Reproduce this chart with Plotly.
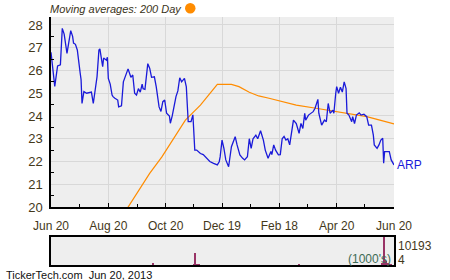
import pandas as pd
import plotly.graph_objects as go

# ---------------- data ----------------
start_date = "2012-06-20"

# price: days since Jun 20, 2012 and closing values
price_days = [0, 2, 4, 7, 10, 12, 14, 17, 18, 21, 23, 24, 26, 28, 31, 32, 33, 35, 38, 42,
              43, 45, 49, 51, 52, 55, 56, 59, 60, 61, 63, 65, 66, 68, 71, 72, 75, 77, 81, 82,
              85, 87, 89, 91, 93, 95, 97, 98, 100, 103, 105, 107, 110, 112, 115, 117, 119, 121, 123, 126,
              127, 129, 133, 135, 137, 139, 142, 144, 146, 149, 151, 152, 153, 155, 159, 162, 166, 169, 173, 177,
              179, 180, 182, 184, 186, 189, 192, 196, 198, 201, 204, 206, 209, 211, 213, 215, 218, 220, 223, 226,
              228, 231, 234, 235, 237, 239, 242, 244, 246, 248, 250, 252, 254, 258, 261, 264, 266, 268, 270, 271,
              274, 277, 279, 281, 284, 285, 288, 291, 293, 295, 297, 300, 301, 303, 304, 306, 308, 310, 312, 314,
              315, 317, 320, 321, 323, 325, 328, 330, 333, 336, 338, 341, 343, 344, 347, 349, 351, 353, 354, 355,
              360, 362, 365]
price_vals = [26.8, 26.0, 25.3, 26.2, 26.25, 27.85, 27.6, 26.75, 27.0, 27.75, 27.5, 27.2, 27.15, 26.9, 25.9, 25.6, 24.55, 25.07, 25.0, 25.02,
              25.05, 24.55, 25.73, 26.9, 26.95, 26.17, 26.55, 26.45, 26.58, 25.65, 25.4, 24.92, 24.85, 24.78, 24.7, 24.4, 24.45, 25.5, 26.0, 26.07,
              25.7, 25.8, 25.0, 24.92, 25.2, 25.05, 25.4, 25.2, 25.17, 26.3, 26.1, 25.7, 25.72, 25.28, 24.4, 24.2, 24.63, 24.7, 24.12, 24.0,
              23.68, 24.0, 24.85, 25.1, 25.68, 25.5, 25.65, 25.28, 23.75, 23.75, 24.05, 22.95, 22.5, 22.5, 22.35, 22.3, 22.14, 22.0, 21.92, 21.85,
              21.99, 22.2, 22.94, 22.58, 22.07, 21.77, 22.65, 23.09, 22.73, 22.29, 22.14, 22.07, 22.21, 23.0, 22.58, 23.0, 23.16, 23.0, 23.35, 22.94,
              22.5, 22.14, 22.44, 22.3, 22.73, 22.5, 22.29, 22.3, 23.0, 23.1, 22.94, 23.0, 22.73, 23.82, 23.67, 23.24, 23.67, 23.45, 24.12, 23.82,
              24.04, 24.12, 24.19, 24.34, 24.73, 24.12, 23.6, 23.82, 23.75, 24.55, 24.12, 24.26, 24.12, 25.0, 25.29, 25.0, 25.26, 25.05, 25.5, 25.2,
              24.12, 24.04, 23.75, 23.97, 23.67, 24.04, 24.14, 24.04, 24.08, 23.97, 23.6, 23.6, 23.16, 22.73, 22.58, 22.73, 22.94, 23.02, 21.92, 22.43,
              22.43, 22.07, 21.85]

# 200-day moving average
ma_days = [79, 82, 105, 118, 143, 159, 173, 177, 192, 194, 200, 211, 221, 232, 243, 261, 282, 303, 318, 336, 350, 362, 365]
ma_vals = [19.8, 20.0, 21.48, 22.2, 23.82, 24.48, 25.2, 25.39, 25.39, 25.36, 25.29, 25.04, 24.88, 24.78, 24.66, 24.48, 24.34, 24.19, 24.07, 23.97, 23.82, 23.68, 23.65]

# volume (1000's)
vol_days = [109, 152, 153, 154, 155, 156, 157, 158, 264, 352, 353, 354, 355, 356, 357, 358, 359, 360, 361, 362]
vol_vals = [700, 400, 4400, 500, 450, 450, 400, 400, 350, 600, 900, 10193, 1800, 1500, 1200, 900, 700, 500, 400, 300]
vol_range = [4, 10193]

x_tick_dates = ["2012-06-20", "2012-08-20", "2012-10-20", "2012-12-19", "2013-02-18", "2013-04-20", "2013-06-20"]
x_tick_text = ["Jun 20", "Aug 20", "Oct 20", "Dec 19", "Feb 18", "Apr 20", "Jun 20"]
x_minor_dates = ["2012-07-20", "2012-09-20", "2012-11-19", "2013-01-18", "2013-03-20", "2013-05-20"]
y_range = [20, 28.35]

ticker = "ARP"
title_text = "Moving averages: 200 Day"
footer_text = "TickerTech.com  Jun 20, 2013"

# ---------------- figure ----------------
base = pd.Timestamp(start_date)
def to_dates(days):
    return base + pd.to_timedelta(days, unit="D")

TXT = "#44381a"
FONT = "Liberation Sans, Arial, sans-serif"
W, H = 450, 280

fig = go.Figure()
fig.add_trace(go.Scatter(x=to_dates(ma_days), y=ma_vals, mode="lines",
                         line=dict(color="#ff8c00", width=1.2), xaxis="x", yaxis="y"))
fig.add_trace(go.Scatter(x=to_dates(price_days), y=price_vals, mode="lines",
                         line=dict(color="#1a1ad9", width=1.3), xaxis="x", yaxis="y"))
fig.add_trace(go.Bar(x=to_dates(vol_days), y=vol_vals, marker=dict(color="#993366", line=dict(width=0)),
                     width=86400000 * 1.0, xaxis="x2", yaxis="y2"))

xdom = [51 / W, 394 / W]
fig.update_layout(
    width=W, height=H, margin=dict(l=0, r=0, t=0, b=0, autoexpand=False),
    paper_bgcolor="white", plot_bgcolor="#eeeeee", showlegend=False,
    font=dict(family=FONT, size=12, color=TXT),
    bargap=0,
    title=dict(text="<i>" + title_text + "</i>", x=50 / W, xref="container", xanchor="left",
               y=1 - 9 / H, yref="container", yanchor="middle",
               font=dict(size=11, color="#3a3320", family=FONT)),
    xaxis=dict(domain=xdom, anchor="y", type="date", automargin=False,
               range=[x_tick_dates[0], x_tick_dates[-1]],
               tickmode="array", tickvals=x_tick_dates, ticktext=x_tick_text,
               showgrid=True, gridcolor="#d8d8d8", gridwidth=1,
               ticks="inside", ticklen=4, tickcolor="black", ticklabelstandoff=7,
               showline=True, linecolor="black", linewidth=1.5,
               minor=dict(tickvals=x_minor_dates, ticks="inside", ticklen=3, tickcolor="black", showgrid=False),
               tickfont=dict(size=12, color=TXT), zeroline=False),
    yaxis=dict(domain=[1 - 207 / H, 1 - 17 / H], anchor="x", range=y_range, automargin=False,
               dtick=1, tick0=20, showgrid=True, gridcolor="#d8d8d8", gridwidth=1,
               ticks="", showline=True, linecolor="black", linewidth=1.5, ticklabelstandoff=4,
               minor=dict(dtick=0.5, ticks="inside", ticklen=3, tickcolor="black", showgrid=False),
               tickfont=dict(size=13, color=TXT), zeroline=False),
    xaxis2=dict(domain=xdom, anchor="y2", type="date", automargin=False,
                range=[x_tick_dates[0], x_tick_dates[-1]],
                showticklabels=False, ticks="", showgrid=False,
                showline=True, linecolor="black", linewidth=1.5, mirror=True, zeroline=False),
    yaxis2=dict(domain=[1 - 265 / H, 1 - 237 / H], anchor="x2", range=vol_range, automargin=False,
                showticklabels=False, ticks="", showgrid=False,
                showline=True, linecolor="black", linewidth=1.5, mirror=True, zeroline=False),
)

# legend dot for the moving average
fig.add_shape(type="circle", xref="paper", yref="paper",
              x0=185 / W, x1=195.5 / W, y0=1 - 13.5 / H, y1=1 - 3 / H,
              fillcolor="#ff8c00", line=dict(width=0))

fig.add_annotation(text=ticker, x=to_dates([price_days[-1]])[0], y=price_vals[-1],
                   xref="x", yref="y", xanchor="left", yanchor="middle", xshift=1,
                   showarrow=False, font=dict(size=12, color="#1a1ad9"))
fig.add_annotation(text=f"{vol_range[1]}", xref="paper", yref="y2 domain",
                   x=396 / W, y=1, xanchor="left", yanchor="top", yshift=0,
                   showarrow=False, font=dict(size=12, color=TXT))
fig.add_annotation(text=f"{vol_range[0]}", xref="paper", yref="y2 domain",
                   x=396 / W, y=0, xanchor="left", yanchor="bottom", yshift=-4,
                   showarrow=False, font=dict(size=12, color=TXT))
fig.add_annotation(text="(1000's)", xref="paper", yref="y2 domain",
                   x=393 / W, y=0, xanchor="right", yanchor="bottom", yshift=-3,
                   showarrow=False, font=dict(size=12, color="#3d6b55"))
fig.add_annotation(text=footer_text, xref="paper", yref="paper",
                   x=4 / W, y=1 - 275 / H, xanchor="left", yanchor="middle",
                   showarrow=False, font=dict(size=11, color="#111111"))

fig.write_html("out.html")
